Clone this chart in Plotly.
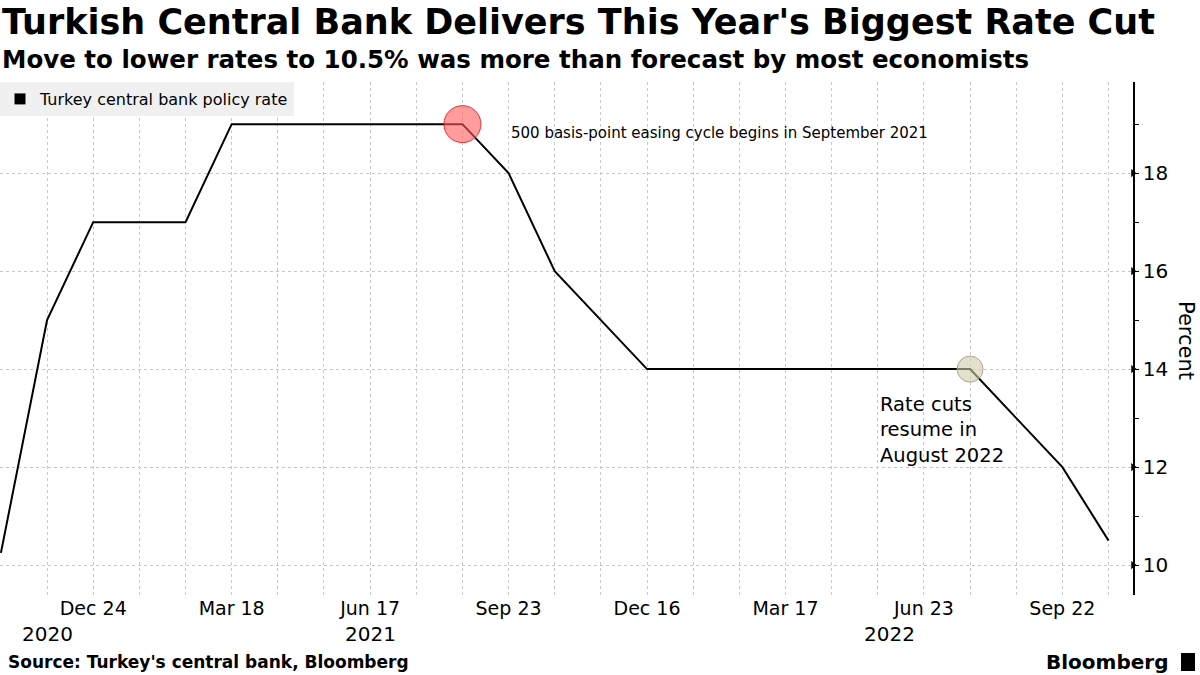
import plotly.graph_objects as go

# ---- data ----
meeting_dates = ["Oct 22 2020", "Nov 19 2020", "Dec 24 2020", "Jan 21 2021", "Feb 18 2021",
                 "Mar 18 2021", "Apr 15 2021", "May 6 2021", "Jun 17 2021", "Jul 14 2021",
                 "Aug 12 2021", "Sep 23 2021", "Oct 21 2021", "Nov 18 2021", "Dec 16 2021",
                 "Jan 20 2022", "Feb 17 2022", "Mar 17 2022", "Apr 14 2022", "May 26 2022",
                 "Jun 23 2022", "Jul 21 2022", "Aug 18 2022", "Sep 22 2022", "Oct 20 2022"]
policy_rate = [10.25, 15, 17, 17, 17, 19, 19, 19, 19, 19, 19, 18, 16, 15, 14,
               14, 14, 14, 14, 14, 14, 14, 13, 12, 10.5]
tick_positions = [2, 5, 8, 11, 14, 17, 20, 23]
tick_labels = ["Dec 24", "Mar 18", "Jun 17", "Sep 23", "Dec 16", "Mar 17", "Jun 23", "Sep 22"]
year_labels = ["2020", "2021", "2022"]
year_label_positions = [1, 8, 19.25]
y_ticks = [10, 12, 14, 16, 18]
highlight_idx = [10, 21]

x_idx = list(range(len(meeting_dates)))
X_MIN, X_MAX = -0.02, 24.53
Y_MIN, Y_MAX = 9.39, 19.86

FONT = "DejaVu Sans"

fig = go.Figure()

# main line
fig.add_trace(go.Scatter(
    x=x_idx, y=policy_rate, mode="lines",
    line=dict(color="black", width=2),
    customdata=meeting_dates, hovertemplate="%{customdata}: %{y}%<extra></extra>",
    showlegend=False))

# highlight circles
fig.add_trace(go.Scatter(
    x=[x_idx[highlight_idx[0]]], y=[policy_rate[highlight_idx[0]]], mode="markers",
    marker=dict(size=37, color="rgba(255,90,90,0.6)", line=dict(color="rgba(230,30,30,0.9)", width=1)),
    showlegend=False, hoverinfo="skip"))
fig.add_trace(go.Scatter(
    x=[x_idx[highlight_idx[1]]], y=[policy_rate[highlight_idx[1]]], mode="markers",
    marker=dict(size=26, color="rgba(205,205,170,0.6)", line=dict(color="rgba(160,160,140,0.9)", width=1)),
    showlegend=False, hoverinfo="skip"))

# legend entry (square marker)
fig.add_trace(go.Scatter(
    x=[None], y=[None], mode="markers", name="Turkey central bank policy rate",
    marker=dict(symbol="square", size=11, color="black")))

# triangle tick markers on right axis
fig.add_trace(go.Scatter(
    x=[X_MAX] * len(y_ticks), y=y_ticks, mode="markers",
    marker=dict(symbol="triangle-right", size=7, color="black"),
    cliponaxis=False, showlegend=False, hoverinfo="skip"))

fig.update_xaxes(
    range=[X_MIN, X_MAX], tickmode="array", tickvals=tick_positions, ticktext=tick_labels,
    showgrid=True, gridcolor="#c8c8c8", griddash="dot", gridwidth=1,
    minor=dict(dtick=1, tick0=0, showgrid=True, gridcolor="#c8c8c8", griddash="dot", gridwidth=1),
    ticks="", showline=False, zeroline=False,
    tickfont=dict(family=FONT, size=19, color="black"))

fig.update_yaxes(
    range=[Y_MIN, Y_MAX], side="right", tickmode="array", tickvals=y_ticks,
    showgrid=True, gridcolor="#c8c8c8", griddash="dot", gridwidth=1,
    showline=True, linecolor="black", linewidth=1.5,
    ticks="outside", ticklen=4, tickcolor="black",
    minor=dict(dtick=1, tick0=9, ticks="outside", ticklen=4, tickcolor="black", showgrid=False),
    zeroline=False,
    tickfont=dict(family=FONT, size=20, color="black"))

PLOT_W = 1133.0
PLOT_TOP, PLOT_BOT = 82.0, 595.0
PLOT_H = PLOT_BOT - PLOT_TOP

def py(pixel_y):
    return (PLOT_BOT - pixel_y) / PLOT_H

def px(pixel_x):
    return pixel_x / PLOT_W

annotations = [
    dict(text="<b>Turkish Central Bank Delivers This Year's Biggest Rate Cut</b>",
         x=px(0), y=py(22), xref="paper", yref="paper", xanchor="left", yanchor="middle",
         showarrow=False, font=dict(family=FONT, size=35, color="black")),
    dict(text="<b>Move to lower rates to 10.5% was more than forecast by most economists</b>",
         x=px(0), y=py(60), xref="paper", yref="paper", xanchor="left", yanchor="middle",
         showarrow=False, font=dict(family=FONT, size=24.5, color="black")),
    dict(text="<b>Source: Turkey's central bank, Bloomberg</b>",
         x=px(6), y=py(662), xref="paper", yref="paper", xanchor="left", yanchor="middle",
         showarrow=False, font=dict(family=FONT, size=17, color="black")),
    dict(text="<b>Bloomberg</b>",
         x=px(1170), y=py(662), xref="paper", yref="paper", xanchor="right", yanchor="middle",
         showarrow=False, font=dict(family=FONT, size=20, color="black")),
    dict(text="Percent", textangle=90,
         x=px(1186), y=py(340), xref="paper", yref="paper", xanchor="center", yanchor="middle",
         showarrow=False, font=dict(family=FONT, size=21, color="black")),
    dict(text="500 basis-point easing cycle begins in September 2021",
         x=11.0, y=18.82, xref="x", yref="y", xanchor="left", yanchor="middle",
         showarrow=False, font=dict(family=FONT, size=15, color="black")),
    dict(text="Rate cuts<br>resume in<br>August 2022", align="left",
         x=19.0, y=12.76, xref="x", yref="y", xanchor="left", yanchor="middle",
         showarrow=False, font=dict(family=FONT, size=19.5, color="black")),
]
for lab, pos in zip(year_labels, year_label_positions):
    annotations.append(dict(text=lab, x=pos, y=py(634), xref="x", yref="paper",
                            xanchor="center", yanchor="middle", showarrow=False,
                            font=dict(family=FONT, size=20, color="black")))

fig.update_layout(
    width=1200, height=675,
    margin=dict(l=0, r=1200 - PLOT_W, t=PLOT_TOP, b=675 - PLOT_BOT, pad=0),
    paper_bgcolor="white", plot_bgcolor="white",
    annotations=annotations,
    showlegend=True,
    legend=dict(x=0, y=1, xanchor="left", yanchor="top", bgcolor="#f0f0f0",
                font=dict(family=FONT, size=16, color="black"),
                itemwidth=30, tracegroupgap=0, borderwidth=0),
    shapes=[dict(type="rect", xref="paper", yref="paper",
                 x0=px(1181), x1=px(1195), y0=py(671), y1=py(653),
                 fillcolor="black", line=dict(width=0))],
    font=dict(family=FONT),
)

fig.write_html("out.html", config={"displayModeBar": False},
               post_script="document.body.style.margin='0';document.body.style.overflow='hidden';")
